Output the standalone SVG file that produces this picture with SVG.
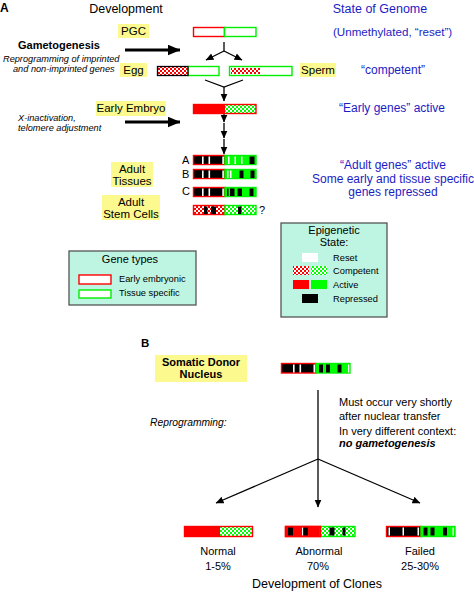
<svg xmlns="http://www.w3.org/2000/svg" width="474" height="594" viewBox="0 0 474 594">
<style>
text{font-family:"Liberation Sans",Arial,sans-serif;fill:#000}
.t{font-size:11.5px}
.h{font-size:12.5px}
.b{font-weight:bold}
.i{font-style:italic;font-size:9.2px}
.blue{fill:#1c1cc4;font-size:12px}
.lg{font-size:9.3px}
.c{text-anchor:middle}
.yl{fill:#fcf98e}
.ro{fill:#fff;stroke:#f00;stroke-width:1.4}
.go{fill:#fff;stroke:#0e0;stroke-width:1.4}
.rb{fill:#000;stroke:#f00;stroke-width:1.4}
.gs{fill:#0f0;stroke:#0e0;stroke-width:1.4}
.w{fill:#fff}
.k{fill:#000}
.box{fill:#bdf5e2;stroke:#555;stroke-width:1.3}
.ln{stroke:#000;stroke-width:1.3;fill:none}
.bg{stroke:#000;stroke-width:3;fill:none}
</style>
<defs>
<pattern id="chkR" width="4" height="4" patternUnits="userSpaceOnUse"><rect width="4" height="4" fill="#f00"/><rect width="2" height="2" fill="#fff"/><rect x="2" y="2" width="2" height="2" fill="#fff"/></pattern>
<pattern id="chkG" width="4" height="4" patternUnits="userSpaceOnUse"><rect width="4" height="4" fill="#0f0"/><rect width="2" height="2" fill="#fff"/><rect x="2" y="2" width="2" height="2" fill="#fff"/></pattern>
<marker id="ah" markerWidth="8" markerHeight="8" refX="7.5" refY="4" orient="auto" markerUnits="userSpaceOnUse"><path d="M0,0.5 L8,4 L0,7.5 z" fill="#000"/></marker>
<marker id="big" markerWidth="13" markerHeight="11" refX="12.5" refY="5.5" orient="auto" markerUnits="userSpaceOnUse"><path d="M0,0 L13,5.5 L0,11 z" fill="#000"/></marker>
</defs>

<g id="headings">
<text x="0" y="12" class="b" style="font-size:12px">A</text>
<text x="126" y="13" class="h c">Development</text>
<text x="380" y="13" class="blue c" style="font-size:12.5px">State of Genome</text>
</g>

<g id="connectors">
<line x1="125" y1="50" x2="180" y2="50" class="bg" marker-end="url(#big)"/>
<line x1="125" y1="122" x2="180" y2="122" class="bg" marker-end="url(#big)"/>
<path d="M224,42 V51" class="ln"/>
<line x1="224" y1="51" x2="206" y2="60" class="ln" marker-end="url(#ah)"/>
<line x1="224" y1="51" x2="242" y2="60" class="ln" marker-end="url(#ah)"/>
<path d="M205,80 L224,87 L243,80" class="ln"/>
<line x1="224" y1="87" x2="224" y2="101" class="ln" marker-end="url(#ah)"/>
<line x1="224" y1="114" x2="224" y2="122" class="ln" marker-end="url(#ah)"/>
<line x1="224" y1="123" x2="224" y2="138" class="ln" marker-end="url(#ah)"/>
<line x1="224" y1="139" x2="224" y2="154" class="ln" marker-end="url(#ah)"/>
<line x1="318" y1="390" x2="318" y2="459" class="ln"/>
<line x1="318" y1="459" x2="216" y2="503" class="ln" marker-end="url(#ah)"/>
<line x1="318" y1="459" x2="318" y2="507" class="ln" marker-end="url(#ah)"/>
<line x1="318" y1="459" x2="420" y2="503" class="ln" marker-end="url(#ah)"/>
</g>

<g id="pgc">
<rect x="118" y="24" width="31" height="14" class="yl"/>
<text x="133.5" y="35" class="t c">PGC</text>
<rect x="193.5" y="27.5" width="31" height="9" class="ro"/>
<rect x="224.5" y="27.5" width="31.5" height="9" class="go"/>
<text x="333" y="36" class="blue" style="font-size:11.6px">(Unmethylated, “reset”)</text>
</g>

<g id="gametogenesis">
<text x="18" y="49" class="b" style="font-size:11px">Gametogenesis</text>
<text x="3" y="61.5" class="i">Reprogramming of imprinted</text>
<text x="13" y="72" class="i">and non-imprinted genes</text>
</g>

<g id="egg">
<rect x="120" y="63" width="27" height="14" class="yl"/>
<text x="133.5" y="74" class="t c">Egg</text>
<rect x="188" y="66.5" width="31" height="9" class="go"/>
<rect x="157.5" y="66.5" width="30.5" height="9" fill="url(#chkR)" stroke="#000" stroke-width="1.3"/>
</g>

<g id="sperm">
<rect x="229.5" y="66.5" width="62.5" height="9" class="go"/>
<rect x="231" y="68" width="29" height="6" fill="url(#chkR)"/>
<rect x="300" y="63" width="36" height="14" class="yl"/>
<text x="318" y="74" class="t c">Sperm</text>
<text x="361" y="74" class="blue">“competent”</text>
</g>

<g id="early-embryo">
<rect x="96" y="101" width="70" height="15" class="yl"/>
<text x="131" y="112" class="t c">Early Embryo</text>
<rect x="193.5" y="104.5" width="31.5" height="9" fill="#f00"/>
<rect x="225" y="104.5" width="31" height="9" fill="url(#chkG)"/>
<rect x="193.5" y="104.5" width="62.5" height="9" fill="none" stroke="#f00" stroke-width="1.4"/>
<text x="339" y="112" class="blue">“Early genes” active</text>
</g>

<g id="x-inactivation">
<text x="18" y="120.5" class="i">X-inactivation,</text>
<text x="18" y="131" class="i">telomere adjustment</text>
</g>

<g id="adult-tissues">
<rect x="111" y="162" width="42" height="25" class="yl"/>
<text x="132" y="173" class="t c">Adult</text>
<text x="132" y="184.5" class="t c">Tissues</text>
<text x="182" y="164" style="font-size:11px">A</text>
<text x="182" y="177.5" style="font-size:11px">B</text>
<text x="182" y="195" style="font-size:11px">C</text>
<rect x="193.5" y="155.5" width="31.5" height="9" class="rb"/>
<rect x="202" y="156.5" width="1.6" height="7.5" class="w"/>
<rect x="208.5" y="156.5" width="1.6" height="7.5" class="w"/>
<rect x="222.3" y="156.5" width="1.6" height="7.5" class="w"/>
<rect x="225" y="155.5" width="31" height="9" class="gs"/>
<rect x="228" y="156.5" width="1.5" height="7.5" class="w"/>
<rect x="234.5" y="156.5" width="1.5" height="7.5" class="w"/>
<rect x="241" y="156.5" width="1.5" height="7.5" class="w"/>
<rect x="249.5" y="156.5" width="5" height="7.5" class="k"/>
<rect x="193.5" y="169.5" width="31.5" height="9" class="rb"/>
<rect x="202" y="170.5" width="1.6" height="7.5" class="w"/>
<rect x="208.5" y="170.5" width="1.6" height="7.5" class="w"/>
<rect x="222.3" y="170.5" width="1.6" height="7.5" class="w"/>
<rect x="225" y="169.5" width="31" height="9" class="gs"/>
<rect x="227" y="170.5" width="1.5" height="7.5" class="w"/>
<rect x="230" y="170.5" width="1.5" height="7.5" class="w"/>
<rect x="239.5" y="170.5" width="4" height="7.5" class="k"/>
<rect x="250.5" y="170.5" width="4" height="7.5" class="k"/>
<rect x="193.5" y="187.5" width="31.5" height="9" class="rb"/>
<rect x="202" y="188.5" width="1.6" height="7.5" class="w"/>
<rect x="208.5" y="188.5" width="1.6" height="7.5" class="w"/>
<rect x="222.3" y="188.5" width="1.6" height="7.5" class="w"/>
<rect x="225" y="187.5" width="31" height="9" class="gs"/>
<rect x="227" y="188.5" width="1.5" height="7.5" class="k"/>
<rect x="230" y="188.5" width="4.5" height="7.5" class="k"/>
<rect x="237.5" y="188.5" width="4.5" height="7.5" class="k"/>
<rect x="249.5" y="188.5" width="4" height="7.5" class="k"/>
</g>

<g id="adult-stem-cells">
<rect x="102" y="195" width="58" height="25" class="yl"/>
<text x="131" y="206" class="t c">Adult</text>
<text x="131" y="217.5" class="t c">Stem Cells</text>
<rect x="193.5" y="205.5" width="31.5" height="9" fill="url(#chkR)" stroke="#f00" stroke-width="1.4"/>
<rect x="204" y="206.5" width="3.5" height="7.5" class="k"/>
<rect x="211" y="206.5" width="5" height="7.5" class="k"/>
<rect x="225" y="205.5" width="31" height="9" fill="url(#chkG)" stroke="#0e0" stroke-width="1.4"/>
<rect x="238" y="206.5" width="3.5" height="7.5" class="k"/>
<text x="259" y="214" style="font-size:11px">?</text>
</g>

<g id="adult-genes-text">
<text x="393" y="168.5" class="blue c">“Adult genes” active</text>
<text x="393" y="182.5" class="blue c">Some early and tissue specific</text>
<text x="393" y="196" class="blue c">genes repressed</text>
</g>

<g id="gene-types">
<rect x="69" y="251" width="127" height="54" class="box"/>
<text x="130" y="263" class="c" style="font-size:11px">Gene types</text>
<rect x="79" y="275" width="32" height="9" class="ro"/>
<text x="119" y="281.5" class="lg">Early embryonic</text>
<rect x="79" y="290" width="32" height="8" class="go"/>
<text x="119" y="296" class="lg">Tissue specific</text>
</g>

<g id="epigenetic-state">
<rect x="281" y="223" width="106" height="94" class="box"/>
<text x="334" y="234" class="c" style="font-size:11px">Epigenetic</text>
<text x="334" y="246" class="c" style="font-size:11px">State:</text>
<rect x="302" y="253" width="16" height="9" fill="#fff"/>
<text x="333" y="261" class="lg">Reset</text>
<rect x="293" y="266" width="16" height="9" fill="url(#chkR)"/>
<rect x="311" y="266" width="16" height="9" fill="url(#chkG)"/>
<text x="333" y="274" class="lg">Competent</text>
<rect x="293" y="280" width="16" height="9" fill="#f00"/>
<rect x="311" y="280" width="16" height="9" fill="#0f0"/>
<text x="333" y="288" class="lg">Active</text>
<rect x="302" y="294" width="16" height="9" fill="#000"/>
<text x="333" y="301.5" class="lg">Repressed</text>
</g>

<g id="panel-b">
<text x="141" y="347" class="b" style="font-size:11.5px">B</text>
</g>

<g id="somatic-donor">
<rect x="155" y="355" width="92" height="27" class="yl"/>
<text x="201" y="366" class="b c" style="font-size:11px">Somatic Donor</text>
<text x="201" y="377.5" class="b c" style="font-size:11px">Nucleus</text>
<rect x="281.5" y="363.5" width="34.5" height="9.5" class="rb"/>
<rect x="293" y="364.5" width="1.6" height="8" class="w"/>
<rect x="299.5" y="364.5" width="1.6" height="8" class="w"/>
<rect x="313.5" y="364.5" width="1.6" height="8" class="w"/>
<rect x="316" y="363.5" width="34" height="9.5" class="gs"/>
<rect x="319" y="364.5" width="4" height="8" class="k"/>
<rect x="326" y="364.5" width="4" height="8" class="k"/>
<rect x="337.5" y="364.5" width="4" height="8" class="k"/>
<rect x="348" y="364.5" width="1.3" height="8" class="w"/>
</g>

<g id="reprogramming-text">
<text x="150" y="426" style="font-style:italic;font-size:10.3px">Reprogramming:</text>
<text x="339" y="406" style="font-size:11px">Must occur very shortly</text>
<text x="339" y="419.5" style="font-size:11px">after nuclear transfer</text>
<text x="339" y="435" style="font-size:11px">In very different context:</text>
<text x="339" y="447" style="font-size:11px;font-weight:bold;font-style:italic">no gametogenesis</text>
</g>

<g id="normal">
<rect x="184.5" y="526.5" width="35.5" height="10" fill="#f00"/>
<rect x="220" y="526.5" width="32.5" height="10" fill="url(#chkG)"/>
<rect x="184.5" y="526.5" width="68" height="10" fill="none" stroke="#f00" stroke-width="1.4"/>
<text x="218" y="555" class="c" style="font-size:11px">Normal</text>
<text x="218" y="570" class="c" style="font-size:11px">1-5%</text>
</g>

<g id="abnormal">
<rect x="285.5" y="526.5" width="35" height="10" fill="#f00" stroke="#f00" stroke-width="1.4"/>
<rect x="288" y="527.5" width="5" height="8" class="k"/>
<rect x="302" y="527.5" width="1.3" height="8" class="w"/>
<rect x="303.3" y="527.5" width="4.5" height="8" class="k"/>
<rect x="320.5" y="526.5" width="34.5" height="10" fill="url(#chkG)" stroke="#0e0" stroke-width="1.4"/>
<rect x="329.5" y="527.5" width="5" height="8" class="k"/>
<rect x="342.5" y="527.5" width="3" height="8" class="k"/>
<rect x="285.5" y="526.5" width="35" height="10" fill="none" stroke="#f00" stroke-width="1.4"/>
<text x="319" y="555" class="c" style="font-size:11px">Abnormal</text>
<text x="318" y="570" class="c" style="font-size:11px">70%</text>
</g>

<g id="failed">
<rect x="386.5" y="526.5" width="34.5" height="10" class="rb"/>
<rect x="388.5" y="527.5" width="1.5" height="8" class="w"/>
<rect x="402.5" y="527.5" width="1.5" height="8" class="w"/>
<rect x="417.5" y="527.5" width="1.6" height="8" class="w"/>
<rect x="421" y="526.5" width="34" height="10" class="gs"/>
<rect x="423.5" y="527.5" width="4" height="8" class="k"/>
<rect x="430.5" y="527.5" width="4" height="8" class="k"/>
<rect x="443" y="527.5" width="4" height="8" class="k"/>
<rect x="452.5" y="527.5" width="1.3" height="8" class="w"/>
<text x="420" y="555" class="c" style="font-size:11px">Failed</text>
<text x="420" y="570" class="c" style="font-size:11px">25-30%</text>
</g>

<g id="clones-caption">
<text x="317" y="588" class="h c">Development of Clones</text>
</g>
</svg>
